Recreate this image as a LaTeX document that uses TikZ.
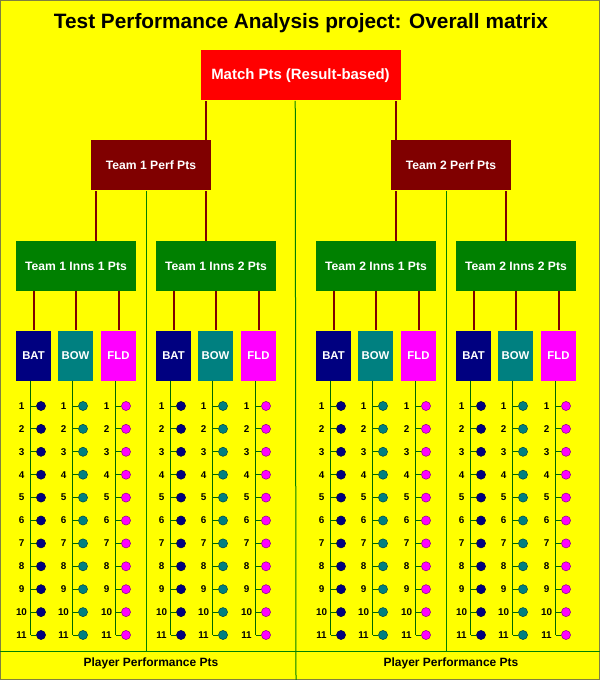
\documentclass[tikz,border=0pt]{standalone}
\usepackage{fontspec}
\setmainfont{Liberation Sans}
\usetikzlibrary{positioning,calc}

\definecolor{bg}{RGB}{255,255,0}
\definecolor{matchred}{RGB}{255,0,0}
\definecolor{perfred}{RGB}{128,0,0}
\definecolor{innsgreen}{RGB}{0,128,0}
\definecolor{batblue}{RGB}{0,0,128}
\definecolor{bowteal}{RGB}{0,128,128}
\definecolor{fldpink}{RGB}{255,0,255}
\definecolor{edge}{RGB}{128,128,64}

\tikzset{
  box/.style={inner sep=0pt, text=white, minimum height=37.5pt,
    font=\bfseries\fontsize{9.1}{11}\selectfont},
  matchbox/.style={box, fill=matchred, minimum width=150pt,
    font=\bfseries\fontsize{11.2}{13}\selectfont},
  perfbox/.style={box, fill=perfred, minimum width=90pt},
  innsbox/.style={box, fill=innsgreen, minimum width=90pt},
  skillbox/.style={box, minimum width=26.25pt,
    font=\bfseries\fontsize{8.5}{10}\selectfont},
  link/.style={perfred, line width=1.5pt},
  divider/.style={innsgreen, line width=0.75pt},
  stem/.style={innsgreen!80!black, line width=0.75pt},
  dot/.style={circle, inner sep=0pt, minimum size=6.8pt, line width=0.4pt},
  num/.style={inner sep=0pt, font=\bfseries\fontsize{7.4}{8}\selectfont},
}

\begin{document}
\begin{tikzpicture}[x=0.75pt, y=-0.75pt]
  % Background and frame
  \fill[bg] (0,0) rectangle (600,680);
  \useasboundingbox (0,0) rectangle (600,680);
  \draw[edge, line width=0.75pt] (0.5,0.5) rectangle (599.5,679.5);

  % Title
  \node[font=\bfseries\fontsize{15.6}{18}\selectfont] (title) at (301,23)
    {Test Performance Analysis project: Overall matrix};

  % Match box
  \node[matchbox] (match) at (300.5,75.5) {Match Pts (Result-based)};

  % Footer line and middle divider
  \coordinate (footL) at (0,651);
  \coordinate (footR) at (600,651);
  \draw[divider] (footL) -- (footR);
  \coordinate (mid) at ($(match.south west)+(95,0)$);
  \coordinate (midend) at (296,680);
  \draw[divider] (mid) -- (midend);

  \foreach \t/\dx in {1/0, 2/300} {
    % Team box
    \node[perfbox] (perf\t) at (151+\dx,165.5) {Team \t\ Perf Pts};
    \node[font=\bfseries\fontsize{9}{11}\selectfont] (foot\t) at (151+\dx,663.5)
      {Player Performance Pts};

    % Team divider
    \coordinate (dv\t) at ($(perf\t.south)+(-5,0)$);
    \draw[divider] (dv\t) -- (dv\t |- footL);

    % Innings boxes
    \node[innsbox] (inns\t-1) at (76+\dx,266) {Team \t\ Inns 1 Pts};
    \node[innsbox] (inns\t-2) at (216+\dx,266) {Team \t\ Inns 2 Pts};
    \coordinate (pl\t) at ($(perf\t.south west)+(5,0)$);
    \coordinate (pr\t) at ($(perf\t.south east)+(-5,0)$);
    \draw[link] (pl\t) -- (pl\t |- inns\t-1.north);
    \draw[link] (pr\t) -- (pr\t |- inns\t-2.north);

    \foreach \n/\ix in {1/0, 2/140} {
      \foreach \s/\c/\off in {BAT/batblue/0, BOW/bowteal/42, FLD/fldpink/85} {
        % Skill box
        \node[skillbox, fill=\c] (sk-\t-\n-\s) at (33.5+\dx+\ix+\off,355.5) {\s};
        \draw[link] (sk-\t-\n-\s.north |- inns\t-\n.south) -- (sk-\t-\n-\s.north);

        % Player dots
        \coordinate (st-\t-\n-\s) at ($(sk-\t-\n-\s.south west)+(15,0)$);
        \foreach \r in {1,...,11} {
          \node[dot, fill=\c, draw=\c!55!black] (dot-\t-\n-\s-\r)
            at (41+\dx+\ix+\off,406+22.9*\r-22.9) {};
          \node[num] (num-\t-\n-\s-\r) at (21.5+\dx+\ix+\off,406+22.9*\r-22.9) {\r};
          \draw[stem] (st-\t-\n-\s |- dot-\t-\n-\s-\r) -- (dot-\t-\n-\s-\r.west);
        }
        \draw[stem] (st-\t-\n-\s) -- (st-\t-\n-\s |- dot-\t-\n-\s-11);
      }
    }
  }

  % Match to team links
  \coordinate (ml1) at ($(perf1.north east)+(-5,0)$);
  \coordinate (ml2) at ($(perf2.north west)+(5,0)$);
  \draw[link] (ml1 |- match.south) -- (ml1);
  \draw[link] (ml2 |- match.south) -- (ml2);
\end{tikzpicture}
\end{document}
